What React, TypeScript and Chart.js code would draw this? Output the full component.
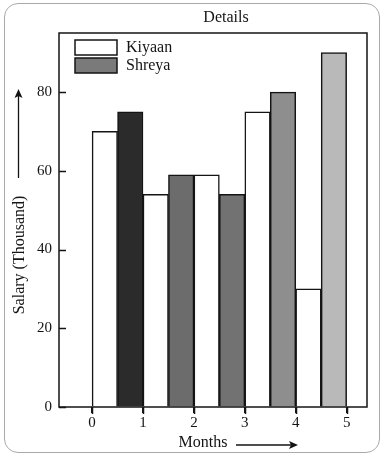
import React, { useEffect, useRef } from "react";
import { Chart, registerables } from "chart.js";
Chart.register(...registerables);

const months = [0, 1, 2, 3, 4];
const kiyaan = [70, 54, 59, 75, 30];
const shreya = [75, 59, 54, 80, 90];
const xTickValues = [0, 1, 2, 3, 4, 5];
const yTickValues = [0, 20, 40, 60, 80];
const seriesNames = ["Kiyaan", "Shreya"];

const FONT = "'Liberation Serif', 'Times New Roman', serif";
const INK = "#141414";
const shreyaColors = ["#2b2b2b", "#6c6c6c", "#727272", "#8e8e8e", "#b9b9b9"];
const legendColors = ["#ffffff", "#7a7a7a"];

const deco = {
  id: "deco",
  afterDraw(chart: any) {
    const { ctx, chartArea: a, scales } = chart;
    ctx.save();
    ctx.strokeStyle = INK;
    ctx.lineWidth = 1.5;
    ctx.strokeRect(a.left, a.top, a.right - a.left, a.bottom - a.top);
    // inward y ticks
    ctx.beginPath();
    yTickValues.forEach((v) => {
      const y = Math.round(scales.y.getPixelForValue(v)) + 0.5;
      ctx.moveTo(a.left, y);
      ctx.lineTo(a.left + 7, y);
    });
    // outward x ticks
    xTickValues.forEach((v) => {
      const x = Math.round(scales.x.getPixelForValue(v)) + 0.5;
      ctx.moveTo(x, a.bottom);
      ctx.lineTo(x, a.bottom + 7);
    });
    ctx.stroke();
    // legend
    ctx.font = `16px ${FONT}`;
    ctx.textBaseline = "middle";
    ctx.textAlign = "left";
    chart.data.datasets.forEach((ds: any, i: number) => {
      const top = 40 + i * 18;
      ctx.fillStyle = legendColors[i];
      ctx.fillRect(75, top, 42, 15);
      ctx.lineWidth = 1.5;
      ctx.strokeStyle = INK;
      ctx.strokeRect(75, top, 42, 15);
      ctx.fillStyle = INK;
      ctx.fillText(ds.label, 126, top + 8);
    });
    // title
    ctx.textAlign = "center";
    ctx.font = `16px ${FONT}`;
    ctx.fillText("Details", 226, 18);
    // x axis title + arrow
    ctx.fillText("Months", 203, 443);
    ctx.lineWidth = 1.3;
    ctx.beginPath();
    ctx.moveTo(236, 445);
    ctx.lineTo(296, 445);
    ctx.stroke();
    ctx.beginPath();
    ctx.moveTo(298, 445);
    ctx.lineTo(289, 441);
    ctx.lineTo(291, 445);
    ctx.lineTo(289, 449);
    ctx.closePath();
    ctx.fill();
    // y axis title + arrow
    ctx.save();
    ctx.translate(20, 255);
    ctx.rotate(-Math.PI / 2);
    ctx.fillText("Salary (Thousand)", 0, 0);
    ctx.restore();
    ctx.beginPath();
    ctx.moveTo(18.5, 178);
    ctx.lineTo(18.5, 93);
    ctx.stroke();
    ctx.beginPath();
    ctx.moveTo(18.5, 89);
    ctx.lineTo(14.5, 98);
    ctx.lineTo(18.5, 96);
    ctx.lineTo(22.5, 98);
    ctx.closePath();
    ctx.fill();
    ctx.restore();
  },
};

export default function App() {
  const ref = useRef<HTMLCanvasElement | null>(null);
  useEffect(() => {
    document.body.style.margin = "0";
    const chart = new Chart(ref.current as HTMLCanvasElement, {
      type: "bar",
      data: {
        datasets: [
          {
            label: seriesNames[0],
            data: months.map((m, i) => ({ x: m + 0.5, y: kiyaan[i] })),
            backgroundColor: "#ffffff",
            borderColor: INK,
            borderWidth: 1.5,
            barPercentage: 1,
            categoryPercentage: 1,
          },
          {
            label: seriesNames[1],
            data: months.map((m, i) => ({ x: m + 0.5, y: shreya[i] })),
            backgroundColor: shreyaColors,
            borderColor: INK,
            borderWidth: 1.5,
            barPercentage: 1,
            categoryPercentage: 1,
          },
        ],
      },
      options: {
        animation: false,
        responsive: false,
        layout: { padding: { left: 0, top: 33, right: 17, bottom: 0 } },
        plugins: { legend: { display: false }, title: { display: false }, tooltip: { enabled: false } },
        scales: {
          x: {
            type: "linear",
            min: -0.65,
            max: 5.4,
            offset: false,
            afterBuildTicks: (s: any) => {
              s.ticks = xTickValues.map((v) => ({ value: v }));
            },
            afterFit: (s: any) => {
              s.height = 52;
            },
            grid: { offset: false, drawOnChartArea: false, drawTicks: true, tickLength: 6, color: INK, lineWidth: 1.5 },
            border: { display: false },
            ticks: { color: INK, font: { family: FONT, size: 15 }, padding: 1, autoSkip: false, maxRotation: 0 },
          },
          y: {
            min: 0,
            max: 95,
            afterBuildTicks: (s: any) => {
              s.ticks = yTickValues.map((v) => ({ value: v }));
            },
            afterFit: (s: any) => {
              s.width = 59;
            },
            grid: { drawOnChartArea: false, drawTicks: false },
            border: { display: false },
            ticks: { color: INK, font: { family: FONT, size: 15 }, padding: 7 },
          },
        },
      },
      plugins: [deco],
    } as any);
    return () => chart.destroy();
  }, []);
  return (
    <div style={{ position: "relative", width: 384, height: 459, overflow: "hidden", background: "#fff" }}>
      <div
        style={{
          position: "absolute",
          left: 4,
          top: 3,
          width: 376,
          height: 450,
          boxSizing: "border-box",
          border: "1px solid #aaaaaa",
          borderRadius: 14,
        }}
      />
      <canvas ref={ref} width={384} height={459} style={{ position: "absolute", left: 0, top: 0, width: 384, height: 459 }} />
    </div>
  );
}
